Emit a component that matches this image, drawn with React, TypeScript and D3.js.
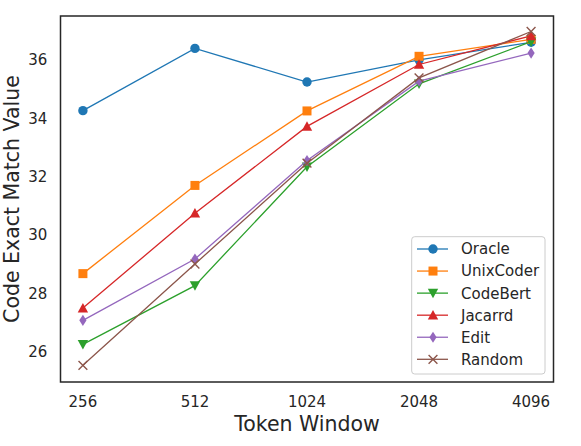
import React from "react";
import * as d3 from "d3";

const categories = ["256", "512", "1024", "2048", "4096"];
const oracle = [34.26, 36.39, 35.24, 36.0, 36.6];
const unixCoder = [28.68, 31.7, 34.25, 36.12, 36.7];
const codeBert = [26.26, 28.27, 32.34, 35.18, 36.62];
const jacarrd = [27.5, 30.75, 33.72, 35.84, 36.82];
const edit = [27.08, 29.18, 32.55, 35.27, 36.23];
const random = [25.54, 29.01, 32.46, 35.38, 36.97];
const yTicks = [26, 28, 30, 32, 34, 36];

type Marker = "o" | "s" | "v" | "^" | "d" | "x";
const series: { name: string; values: number[]; color: string; marker: Marker }[] = [
  { name: "Oracle", values: oracle, color: "#1f77b4", marker: "o" },
  { name: "UnixCoder", values: unixCoder, color: "#ff7f0e", marker: "s" },
  { name: "CodeBert", values: codeBert, color: "#2ca02c", marker: "v" },
  { name: "Jacarrd", values: jacarrd, color: "#d62728", marker: "^" },
  { name: "Edit", values: edit, color: "#9467bd", marker: "d" },
  { name: "Random", values: random, color: "#8c564b", marker: "x" },
];

const W = 581;
const H = 446;
const L = 60.5, R = 553.5, T = 16, B = 382;
const FONT = "DejaVu Sans, sans-serif";
const TEXT = "#262626";

function MarkerShape({ m, x, y, color }: { m: Marker; x: number; y: number; color: string }) {
  switch (m) {
    case "o":
      return <circle cx={x} cy={y} r={4.7} fill={color} />;
    case "s":
      return <rect x={x - 4.5} y={y - 4.5} width={9} height={9} fill={color} />;
    case "v":
      return <path d={`M${x - 5.2},${y - 4.3}L${x + 5.2},${y - 4.3}L${x},${y + 5.2}Z`} fill={color} />;
    case "^":
      return <path d={`M${x - 5.2},${y + 4.3}L${x + 5.2},${y + 4.3}L${x},${y - 5.2}Z`} fill={color} />;
    case "d":
      return <path d={`M${x},${y - 5.6}L${x + 3.6},${y}L${x},${y + 5.6}L${x - 3.6},${y}Z`} fill={color} />;
    case "x":
      return (
        <path
          d={`M${x - 4.4},${y - 4.4}L${x + 4.4},${y + 4.4}M${x - 4.4},${y + 4.4}L${x + 4.4},${y - 4.4}`}
          stroke={color}
          strokeWidth={1.4}
          fill="none"
        />
      );
  }
}

export default function App() {
  const x = d3.scaleLinear().domain([-0.2, categories.length - 1 + 0.2]).range([L, R]);
  const y = d3.scaleLinear().domain([24.97, 37.5]).range([B, T]);
  const line = d3
    .line<number>()
    .x((_, i) => x(i))
    .y((d) => y(d));

  const legX = 411.7, legY = 236.7, legW = 133.3, legH = 137.3;
  const rowH = 22.06;

  return (
    <svg width={W} height={H} style={{ position: "absolute", left: 0, top: 0, background: "#fff" }} fontFamily={FONT}>
      <rect x={0} y={0} width={W} height={H} fill="#fff" />
      {series.map((s) => (
        <g key={s.name}>
          <path d={line(s.values) || ""} fill="none" stroke={s.color} strokeWidth={1.3} />
          {s.values.map((v, i) => (
            <MarkerShape key={i} m={s.marker} x={x(i)} y={y(v)} color={s.color} />
          ))}
        </g>
      ))}
      <rect x={L} y={T} width={R - L} height={B - T} fill="none" stroke="#262626" strokeWidth={1.5} />
      {categories.map((c, i) => (
        <text key={c} x={x(i)} y={406.5} textAnchor="middle" fontSize={15} fill={TEXT}>
          {c}
        </text>
      ))}
      {yTicks.map((t) => (
        <text key={t} x={47.3} y={y(t)} dy="0.36em" textAnchor="end" fontSize={15} fill={TEXT}>
          {t}
        </text>
      ))}
      <text x={(L + R) / 2} y={431} textAnchor="middle" fontSize={20.5} fill={TEXT}>
        Token Window
      </text>
      <text
        transform={`translate(19,${(T + B) / 2}) rotate(-90)`}
        textAnchor="middle"
        fontSize={20.5}
        fill={TEXT}
      >
        Code Exact Match Value
      </text>
      <rect x={legX} y={legY} width={legW} height={legH} rx={3} fill="#fff" fillOpacity={0.8} stroke="#cccccc" strokeWidth={1} />
      {series.map((s, i) => {
        const cy = 249 + i * rowH;
        return (
          <g key={s.name}>
            <line x1={417} x2={448} y1={cy} y2={cy} stroke={s.color} strokeWidth={1.3} />
            <MarkerShape m={s.marker} x={433} y={cy} color={s.color} />
            <text x={461} y={cy} dy="0.36em" fontSize={15} fill={TEXT}>
              {s.name}
            </text>
          </g>
        );
      })}
    </svg>
  );
}
